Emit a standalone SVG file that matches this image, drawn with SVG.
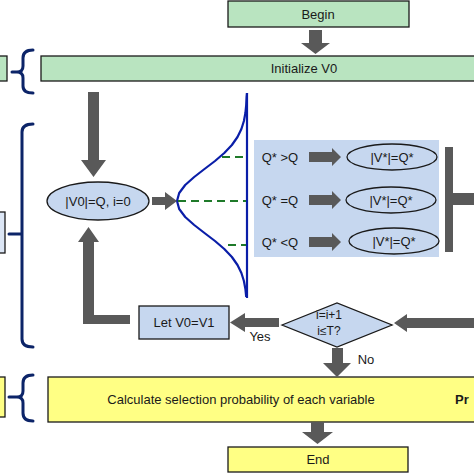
<svg xmlns="http://www.w3.org/2000/svg" width="474" height="474" viewBox="0 0 474 474">
<defs>
<style>
.t{font-family:"Liberation Sans",Arial,sans-serif;font-size:13px;fill:#1a1a1a;text-anchor:middle}
.g{fill:#b9e4c0;stroke:#1a1a1a;stroke-width:1.3}
.y{fill:#ffff84;stroke:#1a1a1a;stroke-width:1.3}
.b{fill:#c6d7ef;stroke:#1a1a1a;stroke-width:1.3}
.ar{fill:#595959;stroke:none}
.br{fill:none;stroke:#0c2468;stroke-width:3;stroke-linecap:round;stroke-linejoin:round}
.dash{stroke:#1f7a2a;stroke-width:2.2;stroke-dasharray:8 5;fill:none}
</style>
</defs>
<rect width="474" height="474" fill="#ffffff"/>

<g id="side-labels">
<rect x="-3" y="56" width="10" height="25" class="g"/>
<rect x="-3" y="212" width="8" height="41" fill="#dce6f5" stroke="#1a1a1a" stroke-width="1.3"/>
<rect x="-3" y="377" width="8" height="40" class="y"/>
</g>

<g id="braces">
<path class="br" d="M33,50 Q23,50 23,58 L23,66 Q23,72 17,72 L12,72 M17,72 Q23,72 23,78 L23,86 Q23,93 33,93"/>
<path class="br" d="M33,124 Q22,124 22,132 L22,339 Q22,347 33,347 M9,234 L22,234"/>
<path class="br" d="M33,375 Q23,375 23,383 L23,391 Q23,397 17,397 L9,397 M17,397 Q23,397 23,403 L23,413 Q23,421 33,421"/>
</g>

<g id="begin">
<rect x="228" y="1" width="181" height="26" class="g"/>
<text class="t" x="318" y="19">Begin</text>
</g>

<g id="init">
<rect x="41" y="56" width="450" height="25" class="g"/>
<text class="t" x="304" y="73">Initialize V0</text>
</g>

<g id="start-ellipse">
<ellipse cx="98" cy="201" rx="51" ry="19" class="b"/>
<text class="t" x="98" y="206">|V0|=Q, i=0</text>
</g>

<g id="distribution">
<line x1="247" y1="93" x2="247" y2="298" stroke="#0a1ea8" stroke-width="2.2"/>
<polyline fill="none" stroke="#0a1ea8" stroke-width="2.2" stroke-linejoin="round" points="247,93 246.6,97 246.2,105 245.4,113 243.9,121 241.4,129 237.5,137 231.9,145 224.3,153 215,161 204.5,169 194.2,177 185.2,185 179.2,193 177,201 179.2,209 185.2,217 194.2,225 204.5,233 215,241 224.3,249 231.9,257 237.5,265 241.4,273 243.9,281 245.4,289 246.2,297"/>
<line class="dash" x1="222" y1="157" x2="246" y2="157"/>
<line class="dash" x1="178" y1="201" x2="246" y2="201"/>
<line class="dash" x1="228" y1="245" x2="246" y2="245"/>
</g>

<g id="cases">
<rect x="254" y="140" width="185" height="117" fill="#c6d7ef"/>
<text class="t" x="280" y="162">Q* &gt;Q</text>
<text class="t" x="280" y="205">Q* =Q</text>
<text class="t" x="280" y="247">Q* &lt;Q</text>
<ellipse cx="392" cy="157" rx="45" ry="13" fill="none" stroke="#1a1a1a" stroke-width="1.3"/>
<ellipse cx="391" cy="200" rx="45" ry="13" fill="none" stroke="#1a1a1a" stroke-width="1.3"/>
<ellipse cx="394" cy="241" rx="45" ry="13" fill="none" stroke="#1a1a1a" stroke-width="1.3"/>
<text class="t" x="392" y="162">|V*|=Q*</text>
<text class="t" x="391" y="205">|V*|=Q*</text>
<text class="t" x="394" y="246">|V*|=Q*</text>
</g>

<g id="let">
<rect x="139" y="306" width="90" height="33" class="b"/>
<text class="t" x="184" y="327">Let V0=V1</text>
</g>

<g id="decision">
<polygon points="282,325 337,303 392,325 337,347" class="b"/>
<text class="t" x="329" y="319" style="font-size:12px">i=i+1</text>
<text class="t" x="329" y="335" style="font-size:12px">i≤T?</text>
</g>

<g id="calc">
<rect x="48" y="377" width="450" height="45" class="y"/>
<text class="t" x="241" y="404">Calculate selection probability of each variable</text>
<text x="455" y="404" style="font-family:'Liberation Sans',Arial,sans-serif;font-size:13px;font-weight:bold;fill:#1a1a1a">Pr</text>
</g>

<g id="end">
<rect x="228" y="447" width="180" height="25" class="y"/>
<text class="t" x="318" y="464">End</text>
</g>

<g id="connectors">
<polygon class="ar" points="309,30 322,30 322,43 330,43 315.5,54 301,43 309,43"/>
<polygon class="ar" points="88,92 99,92 99,160 106,160 93.5,177 81,160 88,160"/>
<polygon class="ar" points="152,197 165,197 165,192 177,201 165,210 165,205 152,205"/>
<polygon class="ar" points="130,315 94,315 94,242 99,242 88.5,227 78,242 83,242 83,324 130,324"/>
<polygon class="ar" points="279,318 245,318 245,313 230,322.5 245,332 245,327 279,327"/>
<polygon class="ar" points="474,318 407,318 407,314 394,323 407,332 407,328 474,328"/>
<polygon class="ar" points="332,348 343,348 343,363 351,363 337,377 323,363 332,363"/>
<polygon class="ar" points="311,422 324,422 324,432 333,432 317.5,444 302,432 311,432"/>
<polygon class="ar" points="309,152 332,152 332,148 341,157 332,166 332,162 309,162"/>
<polygon class="ar" points="309,195 332,195 332,191 341,200 332,209 332,205 309,205"/>
<polygon class="ar" points="309,237 332,237 332,233 341,242 332,251 332,247 309,247"/>
<rect class="ar" x="445" y="147" width="8" height="105"/>
<rect class="ar" x="453" y="193" width="21" height="12"/>
<text class="t" x="260" y="341">Yes</text>
<text class="t" x="366" y="364">No</text>
</g>
</svg>
